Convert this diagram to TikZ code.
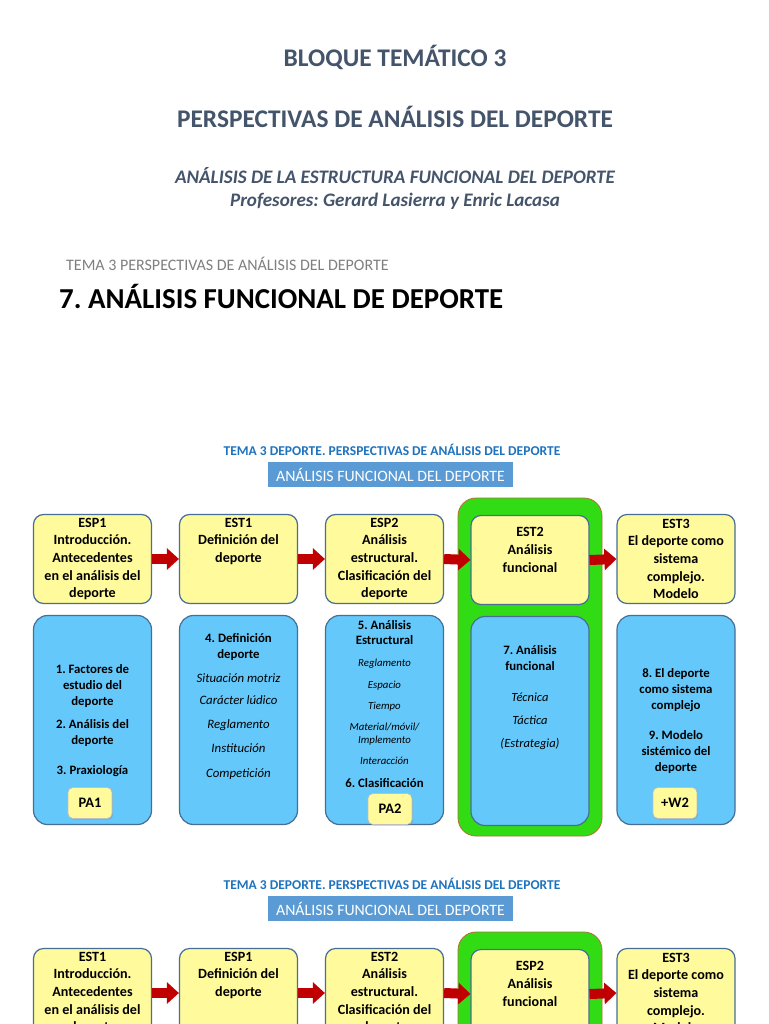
\documentclass[tikz,border=0pt]{standalone}
\usepackage{fontspec}
\setmainfont{Carlito}
\usetikzlibrary{arrows.meta,shadows}
\frenchspacing
\definecolor{slate}{RGB}{68,84,106}
\definecolor{tgray}{RGB}{127,127,127}
\definecolor{tblue}{RGB}{30,115,190}
\definecolor{hdrblue}{RGB}{91,155,213}
\definecolor{yel}{RGB}{255,250,155}
\definecolor{bord}{RGB}{70,110,150}
\definecolor{lblue}{RGB}{100,200,250}
\definecolor{grn}{RGB}{50,220,20}
\definecolor{grnb}{RGB}{180,110,50}
\definecolor{ared}{RGB}{192,0,0}
\newcommand\itx[1]{{\fontsize{12.8}{16}\selectfont\mdseries\itshape #1}}
\newcommand\its[1]{{\fontsize{10.8}{15}\selectfont\mdseries\itshape #1}}
\newcommand\itm[1]{{\fontsize{12.5}{16}\selectfont\mdseries\itshape #1}}
\tikzset{
  ybox/.style={draw=bord, line width=1.2pt, fill=yel, rounded corners=10pt,
    minimum width=118pt, minimum height=89pt, inner sep=0pt, align=center,
    font=\fontsize{14.1}{17.7}\selectfont\bfseries},
  bbox/.style={draw=bord, line width=1.2pt, fill=lblue, rounded corners=14pt,
    minimum width=118pt, minimum height=209pt, inner sep=0pt},
  gbox/.style={draw=grnb, line width=0.8pt, fill=grn, rounded corners=18pt,
    minimum width=144pt, minimum height=338pt, inner sep=0pt},
  smallbox/.style={draw=black!25, line width=0.6pt, fill=yel, rounded corners=5pt,
    minimum width=44pt, minimum height=31pt, inner sep=0pt,
    font=\fontsize{14.5}{16}\selectfont\bfseries,
    drop shadow={shadow xshift=1.2pt, shadow yshift=-1.2pt, opacity=0.3}},
  flow/.style={draw=ared, line width=10pt, -{Triangle[width=21pt,length=12pt]}},
  btext/.style={align=center, anchor=north, inner sep=0pt,
    font=\fontsize{12.8}{16}\selectfont\bfseries},
  hdr/.style={fill=hdrblue, minimum width=245pt, minimum height=25pt, inner sep=0pt,
    text=white, font=\fontsize{15.8}{18}\selectfont},
  dtitle/.style={text=tblue, inner sep=0pt, anchor=base,
    font=\fontsize{13.5}{16}\selectfont\bfseries},
}
\begin{document}
\begin{tikzpicture}[x=1pt,y=-1pt]
\useasboundingbox (0,0) rectangle (768,1024);
\clip (0,0) rectangle (768,1024);
\fill[white] (0,0) rectangle (768,1024);

% header texts
\node[anchor=base, inner sep=0pt, text=slate, font=\fontsize{25.4}{30}\selectfont\bfseries] (t1) at (395,67) {BLOQUE TEMÁTICO 3};
\node[anchor=base, inner sep=0pt, text=slate, font=\fontsize{25.4}{30}\selectfont\bfseries] (t2) at (395,128) {PERSPECTIVAS DE ANÁLISIS DEL DEPORTE};
\node[anchor=base, inner sep=0pt, text=slate, font=\fontsize{19.1}{23}\selectfont\bfseries\itshape] (t3) at (395,183.5) {ANÁLISIS DE LA ESTRUCTURA FUNCIONAL DEL DEPORTE};
\node[anchor=base, inner sep=0pt, text=slate, font=\fontsize{19.1}{23}\selectfont\bfseries\itshape] (t4) at (395,206.5) {Profesores: Gerard Lasierra y Enric Lacasa};
\node[anchor=base west, inner sep=0pt, text=tgray, font=\fontsize{16}{19}\selectfont] (t5) at (66,270) {TEMA 3 PERSPECTIVAS DE ANÁLISIS DEL DEPORTE};
\node[anchor=base west, inner sep=0pt, text=black, font=\fontsize{28.9}{34}\selectfont\bfseries] (t6) at (59,308) {7. ANÁLISIS FUNCIONAL DE DEPORTE};

% ---------- diagram 1 ----------
\node[dtitle] (dt1) at (392,455.7) {TEMA 3 DEPORTE. PERSPECTIVAS DE ANÁLISIS DEL DEPORTE};
\node[hdr] (h1) at (390.5,474.5) {ANÁLISIS FUNCIONAL DEL DEPORTE};
\node[gbox] (g1) at (530,667) {};

\node[ybox] (ya1) at (92.5,559) {ESP1\\Introducción.\\Antecedentes\\en el análisis del\\deporte};
\node[ybox] (ya2) at (238.5,559) {EST1\\Definición del\\deporte\\\phantom{p}\\\phantom{p}};
\node[ybox] (ya3) at (384.5,559) {ESP2\\Análisis\\estructural.\\Clasificación del\\deporte};
\node[ybox] (ya4) at (530,560) {EST2\\Análisis\\funcional\\\phantom{p}};
\node[ybox] (ya5) at (676,559) {EST3\\El deporte como\\sistema\\complejo.\\Modelo};

\node[bbox] (ba1) at (92.5,720) {};
\node[bbox] (ba2) at (238.5,720) {};
\node[bbox] (ba3) at (384.5,720) {};
\node[bbox] (ba4) at (530,721) {};
\node[bbox] (ba5) at (676,720) {};

\node[btext] (ta1) at (92.5,664) {1. Factores de\\estudio del\\deporte\\[7pt]2. Análisis del\\deporte\\[14pt]3. Praxiología};
\node[btext] (ta2) at (238.5,633) {4. Definición\\deporte\\[8pt]\itx{Situación motriz}\\[6pt]\itx{Carácter lúdico}\\[8pt]\itx{Reglamento}\\[8pt]\itx{Institución}\\[9pt]\itx{Competición}};
\node[btext, font=\fontsize{12.8}{15}\selectfont\bfseries] (ta3) at (384.5,620.5) {5. Análisis\\Estructural\\[7pt]\its{Reglamento}\\[7pt]\its{Espacio}\\[6pt]\its{Tiempo}\\[6pt]\its{Material/móvil/}\\[-2pt]\its{Implemento}\\[6pt]\its{Interacción}\\[8pt]6. Clasificación};
\node[btext] (ta4) at (530,645) {7. Análisis\\funcional\\[15pt]\itm{Técnica}\\[7pt]\itm{Táctica}\\[7pt]\itm{(Estrategia)}};
\node[btext] (ta5) at (676,668) {8. El deporte\\como sistema\\complejo\\[14pt]9. Modelo\\sistémico del\\deporte};

\node[smallbox] (pa1) at (90,803) {PA1};
\node[smallbox] (pa2) at (390,809) {PA2};
\node[smallbox] (w2) at (675,803) {+W2};

\draw[flow] (ya1.east) -- (ya2.west);
\draw[flow] (ya2.east) -- (ya3.west);
\draw[flow] (ya3.east) -- (ya4.west);
\draw[flow] (ya4.east) -- (ya5.west);

% ---------- diagram 2 ----------
\node[dtitle] (dt2) at (392,889.7) {TEMA 3 DEPORTE. PERSPECTIVAS DE ANÁLISIS DEL DEPORTE};
\node[hdr] (h2) at (390.5,908.5) {ANÁLISIS FUNCIONAL DEL DEPORTE};
\node[gbox] (g2) at (530,1101) {};

\node[ybox] (yb1) at (92.5,993) {EST1\\Introducción.\\Antecedentes\\en el análisis del\\deporte};
\node[ybox] (yb2) at (238.5,993) {ESP1\\Definición del\\deporte\\\phantom{p}\\\phantom{p}};
\node[ybox] (yb3) at (384.5,993) {EST2\\Análisis\\estructural.\\Clasificación del\\deporte};
\node[ybox] (yb4) at (530,994) {ESP2\\Análisis\\funcional\\\phantom{p}};
\node[ybox] (yb5) at (676,993) {EST3\\El deporte como\\sistema\\complejo.\\Modelo};

\draw[flow] (yb1.east) -- (yb2.west);
\draw[flow] (yb2.east) -- (yb3.west);
\draw[flow] (yb3.east) -- (yb4.west);
\draw[flow] (yb4.east) -- (yb5.west);
\end{tikzpicture}
\end{document}
